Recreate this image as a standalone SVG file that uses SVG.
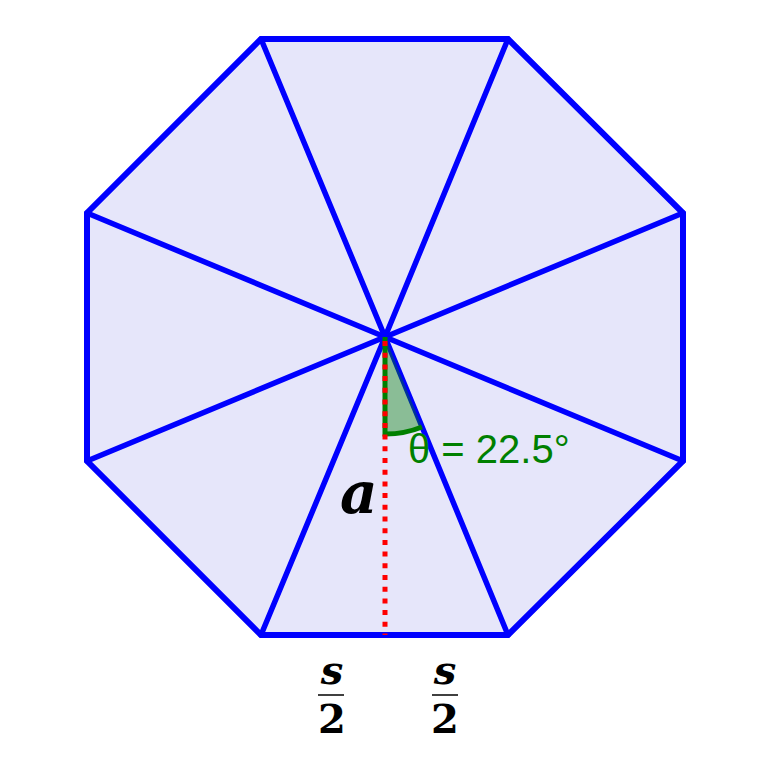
<svg xmlns="http://www.w3.org/2000/svg" width="768" height="761" viewBox="0 0 768 761">
<style>
.edge{fill:#e6e6fa;stroke:#0000ff;stroke-width:6;stroke-linejoin:miter}
.spoke{stroke:#0000ff;stroke-width:5.5;stroke-linecap:round}
.math{font-family:"DejaVu Serif","Liberation Serif",serif;font-weight:bold;fill:#000}
</style>
<rect width="768" height="761" fill="#fff"/>
<g id="octagon">
<polygon class="edge" points="261,39 508,39 683,213 683,461 508,635 261,635 87,461 87,213"/>
</g>
<g id="connectors">
<line class="spoke" x1="385" y1="337" x2="261" y2="39"/>
<line class="spoke" x1="385" y1="337" x2="508" y2="39"/>
<line class="spoke" x1="385" y1="337" x2="683" y2="213"/>
<line class="spoke" x1="385" y1="337" x2="683" y2="461"/>
<line class="spoke" x1="385" y1="337" x2="508" y2="635"/>
<line class="spoke" x1="385" y1="337" x2="261" y2="635"/>
<line class="spoke" x1="385" y1="337" x2="87" y2="461"/>
<line class="spoke" x1="385" y1="337" x2="87" y2="213"/>
</g>
<g id="angle">
<path d="M385,337 L385,434 A97,97 0 0 0 422,427 Z" fill="#008000" fill-opacity="0.4" stroke="none"/>
<path d="M385,337 L385,434 A97,97 0 0 0 422,427" fill="none" stroke="#008000" stroke-width="5"/>
</g>
<g id="apothem">
<line x1="385" y1="341" x2="385" y2="635" stroke="#ff0000" stroke-width="5" stroke-dasharray="5,6.7"/>
</g>
<g id="labels">
<text x="408" y="463" font-family="'Liberation Sans',Arial,sans-serif" font-size="40" fill="#008000">θ = 22.5°</text>
<text x="340" y="513" class="math" font-style="italic" font-size="58">a</text>
<text x="332" y="684" class="math" font-style="italic" font-size="40" text-anchor="middle">s</text>
<line x1="318" y1="695" x2="344" y2="695" stroke="#000" stroke-width="1.5"/>
<text x="332" y="733" class="math" font-size="40" text-anchor="middle">2</text>
<text x="445" y="684" class="math" font-style="italic" font-size="40" text-anchor="middle">s</text>
<line x1="432" y1="695" x2="458" y2="695" stroke="#000" stroke-width="1.5"/>
<text x="445" y="733" class="math" font-size="40" text-anchor="middle">2</text>
</g>
</svg>
